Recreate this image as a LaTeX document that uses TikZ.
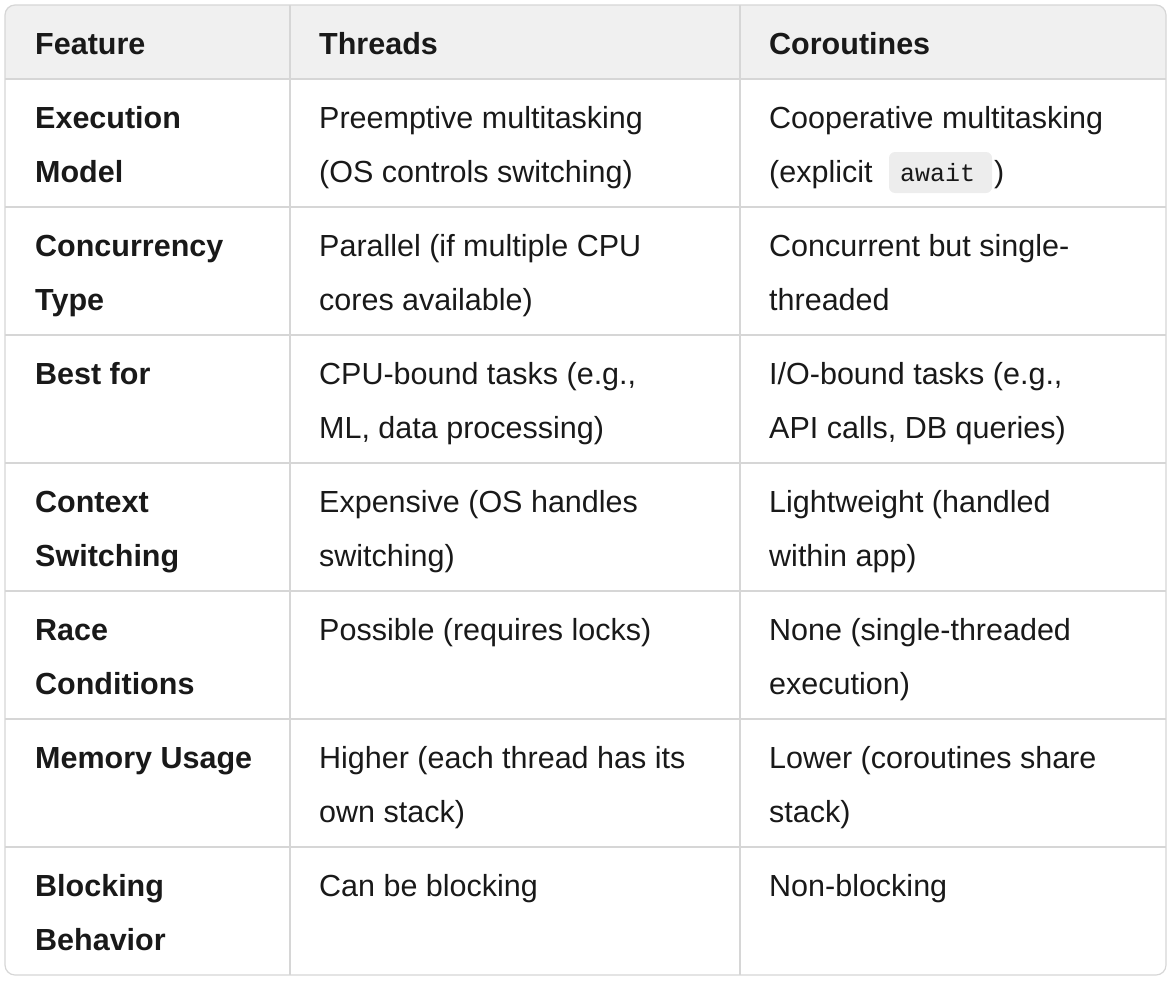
\documentclass[tikz,border=0pt]{standalone}
\usepackage{fontspec}
\setmainfont{Liberation Sans}
\newfontfamily\codefont{Liberation Mono}
\begin{document}
\begin{tikzpicture}[x=1pt,y=-1pt,
  cell/.style={anchor=base west,inner sep=0pt,font=\fontsize{30.5}{34}\selectfont,text=black!90},
  hcell/.style={cell,font=\fontsize{30.5}{34}\selectfont\bfseries},
  grid/.style={draw=black!16,line width=1.2pt}]
\useasboundingbox (0,0) rectangle (1172,980);
\fill[black!6,rounded corners=10pt] (5,5) rectangle (1166,79);
\fill[black!6] (5,40) rectangle (1166,79);
\foreach \y in {79,207,335,463,591,719,847} \draw[grid] (5,\y) -- (1166,\y);
\draw[grid] (290,5) -- (290,975);
\draw[grid] (740,5) -- (740,975);
\draw[grid,rounded corners=10pt] (5,5) rectangle (1166,975);
\node[hcell] (h1) at (35,54) {Feature};
\node[hcell] (h2) at (319,54) {Threads};
\node[hcell] (h3) at (769,54) {Coroutines};
\def\rowtext#1#2#3#4#5#6#7#8{%
  \node[hcell] (a#1) at (35,#2+49) {#3};
  \node[hcell] (b#1) at (35,#2+103) {#4};
  \node[cell] (c#1) at (319,#2+49) {#5};
  \node[cell] (d#1) at (319,#2+103) {#6};
  \node[cell] (e#1) at (769,#2+49) {#7};
  \node[cell] (f#1) at (769,#2+103) {#8};}
\rowtext{1}{79}{Execution}{Model}{Preemptive multitasking}{(OS controls switching)}{Cooperative multitasking}{(explicit}
\fill[black!7,rounded corners=6pt] (889,152) rectangle (992,193);
\node[cell,font=\codefont\fontsize{25}{28}\selectfont] (g1) at (900,181) {await};
\node[cell] (k1) at (994,182) {)};
\rowtext{2}{207}{Concurrency}{Type}{Parallel (if multiple CPU}{cores available)}{Concurrent but single-}{threaded}
\rowtext{3}{335}{Best for}{}{CPU-bound tasks (e.g.,}{ML, data processing)}{I/O-bound tasks (e.g.,}{API calls, DB queries)}
\rowtext{4}{463}{Context}{Switching}{Expensive (OS handles}{switching)}{Lightweight (handled}{within app)}
\rowtext{5}{591}{Race}{Conditions}{Possible (requires locks)}{}{None (single-threaded}{execution)}
\rowtext{6}{719}{Memory Usage}{}{Higher (each thread has its}{own stack)}{Lower (coroutines share}{stack)}
\rowtext{7}{847}{Blocking}{Behavior}{Can be blocking}{}{Non-blocking}{}
\end{tikzpicture}
\end{document}
